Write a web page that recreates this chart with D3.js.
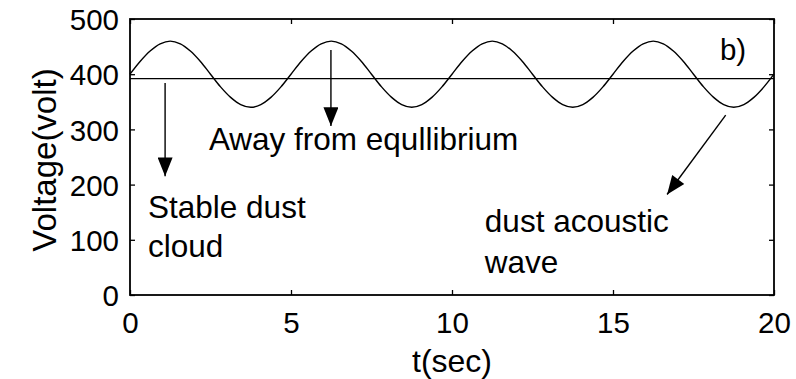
<!DOCTYPE html>
<html><head><meta charset="utf-8">
<script src="https://cdn.jsdelivr.net/npm/d3@7"></script>
<style>body{margin:0;background:#fff}svg text{font-family:"Liberation Sans",Arial,Helvetica,sans-serif;fill:#000}</style>
</head><body><svg id="c" width="796" height="379"></svg>
<script>
const tStep = 0.3125;
const voltage = [
400,423,442,455,460,455,442,423,400,377,358,345,340,345,358,377,
400,423,442,455,460,455,442,423,400,377,358,345,340,345,358,377,
400,423,442,455,460,455,442,423,400,377,358,345,340,345,358,377,
400,423,442,455,460,455,442,423,400,377,358,345,340,345,358,377,
400];
const time = voltage.map((v,i)=>i*tStep);
const equilibrium = 392;
const xTicks = [0,5,10,15,20];
const yTicks = [0,100,200,300,400,500];
const labels = [
  {text:["Away from equllibrium"], t:2.45, v:262.5, size:31.5, lh:0},
  {text:["Stable dust","cloud"], t:0.56, v:139.5, size:31.5, lh:39},
  {text:["dust acoustic","wave"], t:11.02, v:115, size:31.5, lh:41},
  {text:["b)"], t:18.32, v:426, size:29.5, lh:0}
];
const arrows = [
  {from:[1.09,384], to:[1.09,215]},
  {from:[6.24,444], to:[6.24,306]},
  {from:[18.5,326], to:[16.68,182]}
];

const svg = d3.select("#c");
const m = {l:130, r:774, t:19, b:295};
const x = d3.scaleLinear().domain([0,20]).range([m.l,m.r]);
const y = d3.scaleLinear().domain([0,500]).range([m.b,m.t]);
const fs = 29.5;

// frame
svg.append("rect").attr("x",m.l).attr("y",m.t).attr("width",m.r-m.l).attr("height",m.b-m.t)
  .attr("fill","none").attr("stroke","#000").attr("stroke-width",1.8);

const tl = 5;
const gx = svg.append("g").attr("transform",`translate(0,${m.b})`)
  .call(d3.axisBottom(x).tickValues(xTicks).tickSize(-tl).tickPadding(10).tickFormat(d3.format("d")));
const gxt = svg.append("g").attr("transform",`translate(0,${m.t})`)
  .call(d3.axisTop(x).tickValues(xTicks).tickSize(-tl).tickFormat(""));
const gy = svg.append("g").attr("transform",`translate(${m.l},0)`)
  .call(d3.axisLeft(y).tickValues(yTicks).tickSize(-tl).tickPadding(11).tickFormat(d3.format("d")));
const gyr = svg.append("g").attr("transform",`translate(${m.r},0)`)
  .call(d3.axisRight(y).tickValues(yTicks).tickSize(-tl).tickFormat(""));
[gx,gxt,gy,gyr].forEach(g=>{
  g.select(".domain").remove();
  g.selectAll(".tick line").attr("stroke","#000").attr("stroke-width",1.3);
  g.selectAll("text").attr("font-size",fs).attr("fill","#000");
});
gx.selectAll("text").attr("y",null).attr("dy",null).attr("y",38);
gy.selectAll("text").attr("dy","0.36em");

// equilibrium line
svg.append("line").attr("x1",x(0)).attr("x2",x(20)).attr("y1",y(equilibrium)).attr("y2",y(equilibrium))
  .attr("stroke","#000").attr("stroke-width",1.3);

// wave
svg.append("path").datum(voltage.map((v,i)=>[time[i],v]))
  .attr("fill","none").attr("stroke","#000").attr("stroke-width",1.4)
  .attr("d",d3.line().x(d=>x(d[0])).y(d=>y(d[1])).curve(d3.curveCatmullRom));

// arrows
svg.append("defs").append("marker").attr("id","ah").attr("viewBox","0 0 20 16")
  .attr("refX",20).attr("refY",8).attr("markerWidth",20).attr("markerHeight",15)
  .attr("markerUnits","userSpaceOnUse").attr("orient","auto")
  .append("path").attr("d","M0,0L20,8L0,16Z").attr("fill","#000");
arrows.forEach(a=>{
  svg.append("line").attr("x1",x(a.from[0])).attr("y1",y(a.from[1]))
    .attr("x2",x(a.to[0])).attr("y2",y(a.to[1]))
    .attr("stroke","#000").attr("stroke-width",1.4).attr("marker-end","url(#ah)");
});

// labels
labels.forEach(l=>{
  const t = svg.append("text").attr("x",x(l.t)).attr("y",y(l.v)).attr("font-size",l.size);
  l.text.forEach((s,i)=>t.append("tspan").attr("x",x(l.t)).attr("dy",i?l.lh:0).text(s));
});

// axis titles
svg.append("text").attr("x",(m.l+m.r)/2).attr("y",372).attr("text-anchor","middle").attr("font-size",32).text("t(sec)");
svg.append("text").attr("transform",`translate(56,${(m.t+m.b)/2+3}) rotate(-90)`).attr("text-anchor","middle")
  .attr("font-size",33).text("Voltage(volt)");
</script></body></html>
